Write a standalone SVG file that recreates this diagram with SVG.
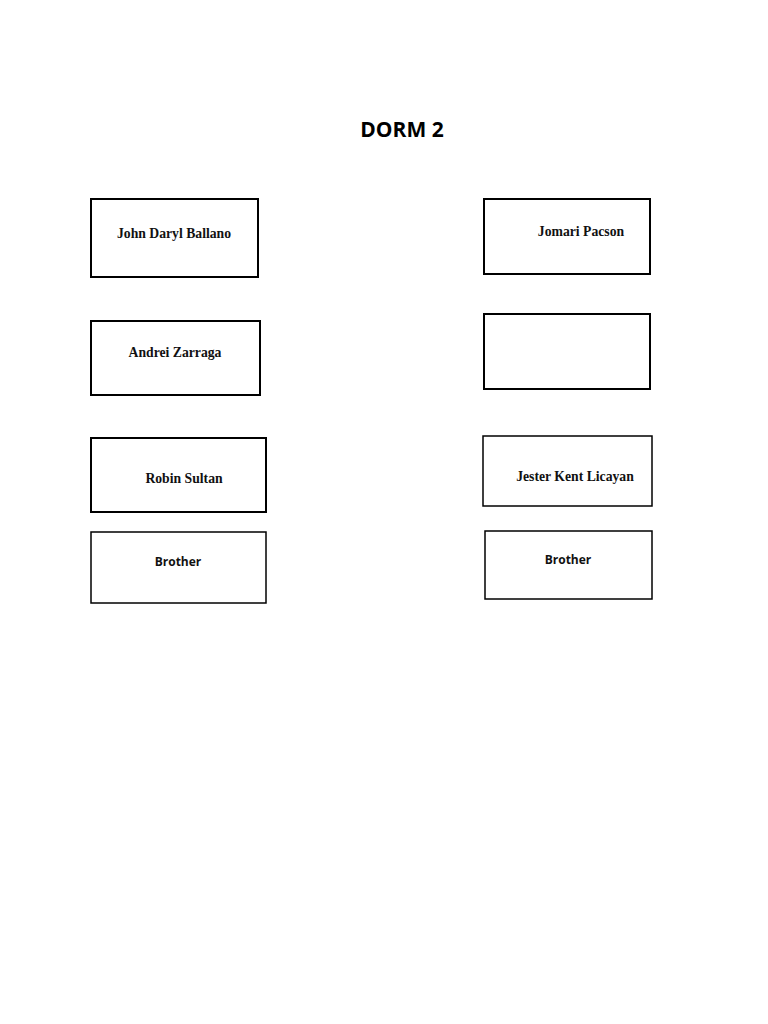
<svg xmlns="http://www.w3.org/2000/svg" width="768" height="1024" viewBox="0 0 768 1024">
<style>
.box{fill:#fff;stroke:#000;stroke-width:2}
.name{font-family:"Liberation Serif","Times New Roman",serif;font-weight:bold;font-size:13.7px;fill:#111}
.sib{font-family:"Open Sans","Liberation Sans",sans-serif;font-weight:bold;font-size:12px;fill:#111}
.title{font-family:"Open Sans","Liberation Sans",sans-serif;font-weight:bold;font-size:21px;fill:#000}
</style>
<rect width="768" height="1024" fill="#fff"/>
<text class="title" x="402" y="137" text-anchor="middle">DORM 2</text>
<g id="n1"><rect class="box" x="91" y="199" width="167" height="78"/><text class="name" x="174" y="238" text-anchor="middle">John Daryl Ballano</text></g>
<g id="n2"><rect class="box" x="484" y="199" width="166" height="75"/><text class="name" x="581" y="236" text-anchor="middle">Jomari Pacson</text></g>
<g id="n3"><rect class="box" x="91" y="321" width="169" height="74"/><text class="name" x="175" y="357" text-anchor="middle">Andrei Zarraga</text></g>
<g id="n4"><rect class="box" x="484" y="314" width="166" height="75"/></g>
<g id="n5"><rect class="box" x="91" y="438" width="175" height="74"/><text class="name" x="184" y="483" text-anchor="middle">Robin Sultan</text></g>
<g id="n6"><rect class="box" x="91" y="532" width="175" height="71" style="stroke-width:1.5"/><text class="sib" x="178" y="566" text-anchor="middle">Brother</text></g>
<g id="n7"><rect class="box" x="483" y="436" width="169" height="70" style="stroke-width:1.5"/><text class="name" x="575" y="481" text-anchor="middle">Jester Kent Licayan</text></g>
<g id="n8"><rect class="box" x="485" y="531" width="167" height="68" style="stroke-width:1.5"/><text class="sib" x="568" y="564" text-anchor="middle">Brother</text></g>
<g id="connectors"/>
</svg>
